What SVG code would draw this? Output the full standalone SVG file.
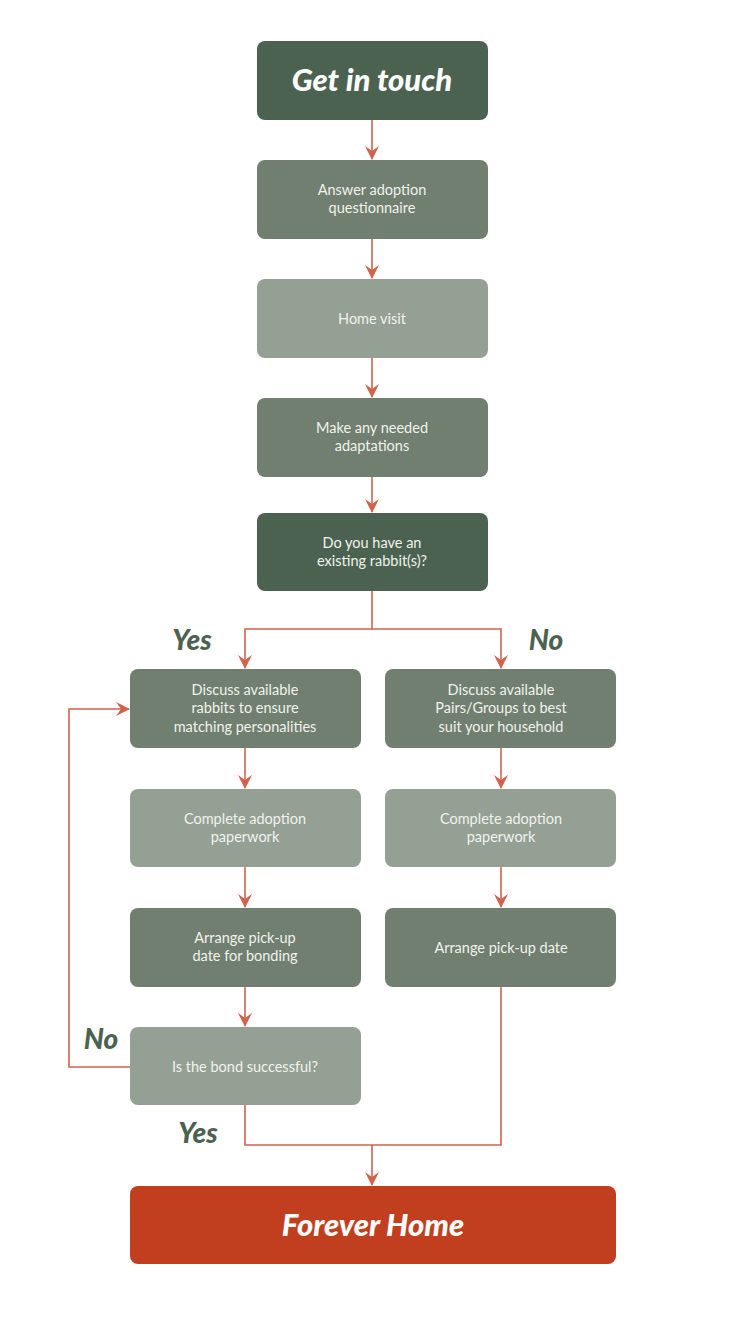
<svg xmlns="http://www.w3.org/2000/svg" width="750" height="1333" viewBox="0 0 750 1333">
<style>
.n rect{stroke:none}
.d{fill:#4b6251}
.m{fill:#707f70}
.l{fill:#95a095}
.r{fill:#c13f1e}
.t{font-family:Lato,"Open Sans",sans-serif;font-size:14.5px;fill:#f0f2ec;text-anchor:middle}
.h{font-family:Lato,"Liberation Sans",sans-serif;font-size:31px;font-weight:900;font-style:italic;fill:#ffffff;text-anchor:middle}
.lab{font-family:Lato,"Liberation Sans",sans-serif;font-size:28px;font-weight:900;font-style:italic;fill:#4b6251;text-anchor:middle}
.c{fill:none;stroke:#d0634c;stroke-width:1.6}
</style>
<defs>
<marker id="a" viewBox="0 0 14 14" refX="13" refY="7" markerWidth="14" markerHeight="14" markerUnits="userSpaceOnUse" orient="auto">
<path d="M0,0 L14,7 L0,14 L5,7 z" fill="#d0634c"/>
</marker>
</defs>
<rect width="750" height="1333" fill="#ffffff"/>
<g id="connectors">
<path class="c" d="M372,120 V159" marker-end="url(#a)"/>
<path class="c" d="M372,239 V278" marker-end="url(#a)"/>
<path class="c" d="M372,358 V397" marker-end="url(#a)"/>
<path class="c" d="M372,477 V512" marker-end="url(#a)"/>
<path class="c" d="M372,591 V629 H245 V668" marker-end="url(#a)"/>
<path class="c" d="M372,629 H501 V668" marker-end="url(#a)"/>
<path class="c" d="M245,748 V788" marker-end="url(#a)"/>
<path class="c" d="M501,748 V788" marker-end="url(#a)"/>
<path class="c" d="M245,867 V907" marker-end="url(#a)"/>
<path class="c" d="M501,867 V907" marker-end="url(#a)"/>
<path class="c" d="M245,987 V1026" marker-end="url(#a)"/>
<path class="c" d="M130,1067 H69 V709 H129" marker-end="url(#a)"/>
<path class="c" d="M245,1105 V1145 H501 V987"/>
<path class="c" d="M372,1145 V1185" marker-end="url(#a)"/>
</g>
<g id="n1" class="n"><rect class="d" x="257" y="41" width="231" height="79" rx="8"/><text class="h" x="372" y="91">Get in touch</text></g>
<g id="n2" class="n"><rect class="m" x="257" y="160" width="231" height="79" rx="8"/><text class="t" x="372" y="195">Answer adoption</text><text class="t" x="372" y="213">questionnaire</text></g>
<g id="n3" class="n"><rect class="l" x="257" y="279" width="231" height="79" rx="8"/><text class="t" x="372" y="324">Home visit</text></g>
<g id="n4" class="n"><rect class="m" x="257" y="398" width="231" height="79" rx="8"/><text class="t" x="372" y="433">Make any needed</text><text class="t" x="372" y="451">adaptations</text></g>
<g id="n5" class="n"><rect class="d" x="257" y="513" width="231" height="78" rx="8"/><text class="t" x="372" y="548">Do you have an</text><text class="t" x="372" y="566">existing rabbit(s)?</text></g>
<g id="n6" class="n"><rect class="m" x="130" y="669" width="231" height="79" rx="8"/><text class="t" x="245" y="695">Discuss available</text><text class="t" x="245" y="713">rabbits to ensure</text><text class="t" x="245" y="732">matching personalities</text></g>
<g id="n7" class="n"><rect class="m" x="385" y="669" width="231" height="79" rx="8"/><text class="t" x="501" y="695">Discuss available</text><text class="t" x="501" y="713">Pairs/Groups to best</text><text class="t" x="501" y="732">suit your household</text></g>
<g id="n8" class="n"><rect class="l" x="130" y="789" width="231" height="78" rx="8"/><text class="t" x="245" y="824">Complete adoption</text><text class="t" x="245" y="842">paperwork</text></g>
<g id="n9" class="n"><rect class="l" x="385" y="789" width="231" height="78" rx="8"/><text class="t" x="501" y="824">Complete adoption</text><text class="t" x="501" y="842">paperwork</text></g>
<g id="n10" class="n"><rect class="m" x="130" y="908" width="231" height="79" rx="8"/><text class="t" x="245" y="943">Arrange pick-up</text><text class="t" x="245" y="961">date for bonding</text></g>
<g id="n11" class="n"><rect class="m" x="385" y="908" width="231" height="79" rx="8"/><text class="t" x="501" y="953">Arrange pick-up date</text></g>
<g id="n12" class="n"><rect class="l" x="130" y="1027" width="231" height="78" rx="8"/><text class="t" x="245" y="1072">Is the bond successful?</text></g>
<g id="n13" class="n"><rect class="r" x="130" y="1186" width="486" height="78" rx="8"/><text class="h" x="373" y="1236">Forever Home</text></g>
<g id="labels">
<text class="lab" x="192" y="650">Yes</text>
<text class="lab" x="546" y="650">No</text>
<text class="lab" x="101" y="1049">No</text>
<text class="lab" x="198" y="1143">Yes</text>
</g>
</svg>
